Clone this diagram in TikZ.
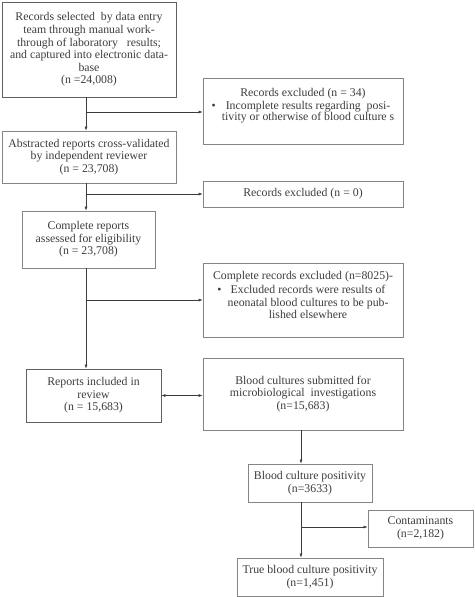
\documentclass[tikz,border=0pt]{standalone}
\usepackage{fontspec}
\setmainfont{Liberation Serif}
\usetikzlibrary{arrows.meta,calc}
\definecolor{txtgray}{HTML}{3C3C3C}
\definecolor{boxgray}{HTML}{858585}
\definecolor{boxdark}{HTML}{606060}
\begin{document}
\begin{tikzpicture}[x=1pt,y=-1pt,
  font=\fontsize{11.8}{12.6}\selectfont, text=txtgray,
  box/.style={draw=boxgray, line width=0.9pt, inner sep=0pt, align=center},
  txt/.style={inner sep=0pt, align=center},
  arr/.style={-{Latex[length=4pt,width=3pt]}, draw=txtgray, line width=0.5pt},
  darr/.style={{Latex[length=4pt,width=3pt]}-{Latex[length=4pt,width=3pt]}, draw=txtgray, line width=0.5pt}]
\useasboundingbox (0,0) rectangle (474,597);

\node[box, draw=boxdark, minimum width=174pt, minimum height=95pt] (b1) at (89,49.5)
  {Records selected\ \ by data entry\\ team through manual work-\\ through of laboratory\ \ \ results;\\ and captured into electronic data-\\ base\\ (n =24,008)};

\node[box, minimum width=200pt, minimum height=66pt] (e1) at (303,111) {};
\node[txt] (e1t) at (303,106) {Records excluded (n = 34)\\[1pt]
  {\renewcommand\arraystretch{0.82}\begin{tabular}{@{}c@{\hspace{6pt}}c@{}}\textbullet & Incomplete results regarding\ \ posi-\\ & tivity or otherwise of blood culture s\end{tabular}}};

\node[box, minimum width=174pt, minimum height=52pt] (b2) at (89,157)
  {Abstracted reports cross-validated\\ by independent reviewer\\ (n = 23,708)};

\node[box, minimum width=200pt, minimum height=26pt] (e2) at (303,194) {Records excluded (n = 0)};

\node[box, minimum width=133pt, minimum height=57pt] (b3) at (88.5,239.5)
  {Complete reports\\ assessed for eligibility\\ (n = 23,708)};

\node[box, minimum width=200pt, minimum height=74pt] (e3) at (303,300) {};
\node[txt] (e3t) at (303,297) {Complete records excluded (n=8025)-\\[2pt]
  \begin{tabular}{@{}c@{\hspace{6pt}}c@{}}\textbullet & Excluded records were results of\\ & neonatal blood cultures to be pub-\\ & lished elsewhere\end{tabular}};

\node[box, draw=boxdark, minimum width=135pt, minimum height=53pt] (b4) at (93.5,395.5)
  {Reports included in\\ review\\ (n = 15,683)};

\node[box, minimum width=200pt, minimum height=72pt] (b5) at (303,394)
  {Blood cultures submitted for\\ microbiological\ \ investigations\\ (n=15,683)};

\node[box, minimum width=124pt, minimum height=38pt] (b6) at (310,483)
  {Blood culture positivity\\ (n=3633)};

\node[box, minimum width=105pt, minimum height=37pt] (c) at (420.5,528.5)
  {Contaminants\\ (n=2,182)};

\node[box, minimum width=146pt, minimum height=38pt] (b8) at (310,577)
  {True blood culture positivity\\ (n=1,451)};

% connectors
\coordinate (s) at (86,0);
\coordinate (t) at (301,0);
\coordinate (j1) at (86,112);
\coordinate (j2) at (86,194);
\coordinate (j3) at (86,300);
\coordinate (j4) at (301,527);

\draw[arr] (b1.south -| s) -- (b2.north -| s);
\draw[arr] (j1) -- (j1 -| e1.west);
\draw[arr] (b2.south -| s) -- (b3.north -| s);
\draw[arr] (j2) -- (j2 -| e2.west);
\draw[arr] (b3.south -| s) -- (b4.north -| s);
\draw[arr] (j3) -- (j3 -| e3.west);
\draw[darr] (b4.east) -- (b4.east -| b5.west);
\draw[arr] (b5.south -| t) -- (b6.north -| t);
\draw[arr] (b6.south -| t) -- (b8.north -| t);
\draw[arr] (j4) -- (j4 -| c.west);
\end{tikzpicture}
\end{document}
